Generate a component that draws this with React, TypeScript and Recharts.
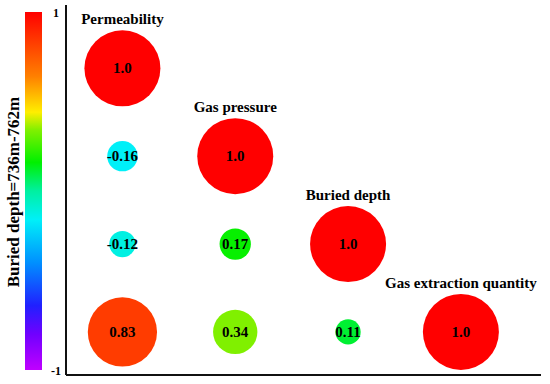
import React from 'react';
import { ScatterChart, Scatter, XAxis, YAxis, ZAxis, Customized } from 'recharts';

const variables = ['Permeability', 'Gas pressure', 'Buried depth', 'Gas extraction quantity'];
// lower triangle of the correlation matrix, one row per variable
const rowPermeability = [1.0];
const rowGasPressure = [-0.16, 1.0];
const rowBuriedDepth = [-0.12, 0.17, 1.0];
const rowGasExtraction = [0.83, 0.34, 0.11, 1.0];
const colorbarTicks = ['1', '-1'];
const colorbarTitle = 'Buried depth=736m-762m';

const rows = [rowPermeability, rowGasPressure, rowBuriedDepth, rowGasExtraction];
const points = rows.flatMap((row, i) =>
  row.map((v, j) => ({
    x: j + 1,
    y: rows.length - i,
    z: Math.abs(v),
    value: v,
    label: i === j ? variables[i] : null,
  }))
);

const textStyle = { fontFamily: 'Liberation Serif', fontWeight: 'bold' as const };

// rainbow colormap, t in [0,1] maps -1..1
const stops: [number, string][] = [
  [0, '#c000ff'],
  [0.1, '#7000ff'],
  [0.18, '#2020ff'],
  [0.3, '#0090ff'],
  [0.42, '#00f0f8'],
  [0.5, '#00f0a0'],
  [0.58, '#00f000'],
  [0.67, '#80f000'],
  [0.72, '#ffee00'],
  [0.82, '#ff8000'],
  [1, '#ff0000'],
];

const hex = (c: string) => [1, 3, 5].map((k) => parseInt(c.slice(k, k + 2), 16));

function colormap(v: number) {
  const t = (v + 1) / 2;
  for (let k = 1; k < stops.length; k++) {
    if (t <= stops[k][0]) {
      const [t0, c0] = stops[k - 1];
      const [t1, c1] = stops[k];
      const f = (t - t0) / (t1 - t0);
      const a = hex(c0), b = hex(c1);
      const rgb = a.map((x, n) => Math.round(x + (b[n] - x) * f));
      return `rgb(${rgb.join(',')})`;
    }
  }
  return stops[stops.length - 1][1];
}

const fmt = (v: number) => (Math.abs(v) === 1 ? v.toFixed(1) : v.toFixed(2));

const Bubble = (props: any) => {
  const { cx, cy, width, payload } = props;
  const r = width / 2;
  return (
    <g>
      <circle cx={cx} cy={cy} r={r} fill={colormap(payload.value)} />
      <text x={cx} y={cy + 5} textAnchor="middle" fontSize={15} fill="#000" style={textStyle}>
        {fmt(payload.value)}
      </text>
      {payload.label && (
        <text x={cx} y={cy - r - 6} textAnchor="middle" fontSize={15} fill="#000" style={textStyle}>
          {payload.label}
        </text>
      )}
    </g>
  );
};

const ColorBar = () => (
  <g>
    <defs>
      <linearGradient id="cbar" x1="0" y1="1" x2="0" y2="0">
        {stops.map(([t, c]) => (
          <stop key={t} offset={t} stopColor={c} />
        ))}
      </linearGradient>
    </defs>
    <rect x={25} y={12} width={17} height={358} fill="url(#cbar)" />
    <text x={53} y={17} fontSize={12} fill="#000" style={textStyle}>{colorbarTicks[0]}</text>
    <text x={51} y={375} fontSize={12} fill="#000" style={textStyle}>{colorbarTicks[1]}</text>
    <text
      x={0}
      y={0}
      transform="translate(19,192) rotate(-90)"
      textAnchor="middle"
      fontSize={17}
      fill="#000"
      style={textStyle}
    >
      {colorbarTitle}
    </text>
  </g>
);

export default function App() {
  return (
    <div style={{ position: 'absolute', left: 0, top: 0, width: 550, height: 384, background: '#fff' }}>
      <ScatterChart width={550} height={384} margin={{ top: 5, right: 9, bottom: 8, left: 65 }}>
        <XAxis
          type="number"
          dataKey="x"
          domain={[0.5, 4.71]}
          allowDataOverflow
          tick={false}
          tickLine={false}
          height={1}
          axisLine={{ stroke: '#111', strokeWidth: 2 }}
        />
        <YAxis
          type="number"
          dataKey="y"
          domain={[0.51, 4.72]}
          allowDataOverflow
          tick={false}
          tickLine={false}
          width={1}
          axisLine={{ stroke: '#111', strokeWidth: 2 }}
        />
        <ZAxis type="number" dataKey="z" domain={[0, 1]} range={[0, Math.PI * 38 * 38]} />
        <Scatter data={points} shape={<Bubble />} isAnimationActive={false} />
        <Customized component={<ColorBar />} />
      </ScatterChart>
    </div>
  );
}
